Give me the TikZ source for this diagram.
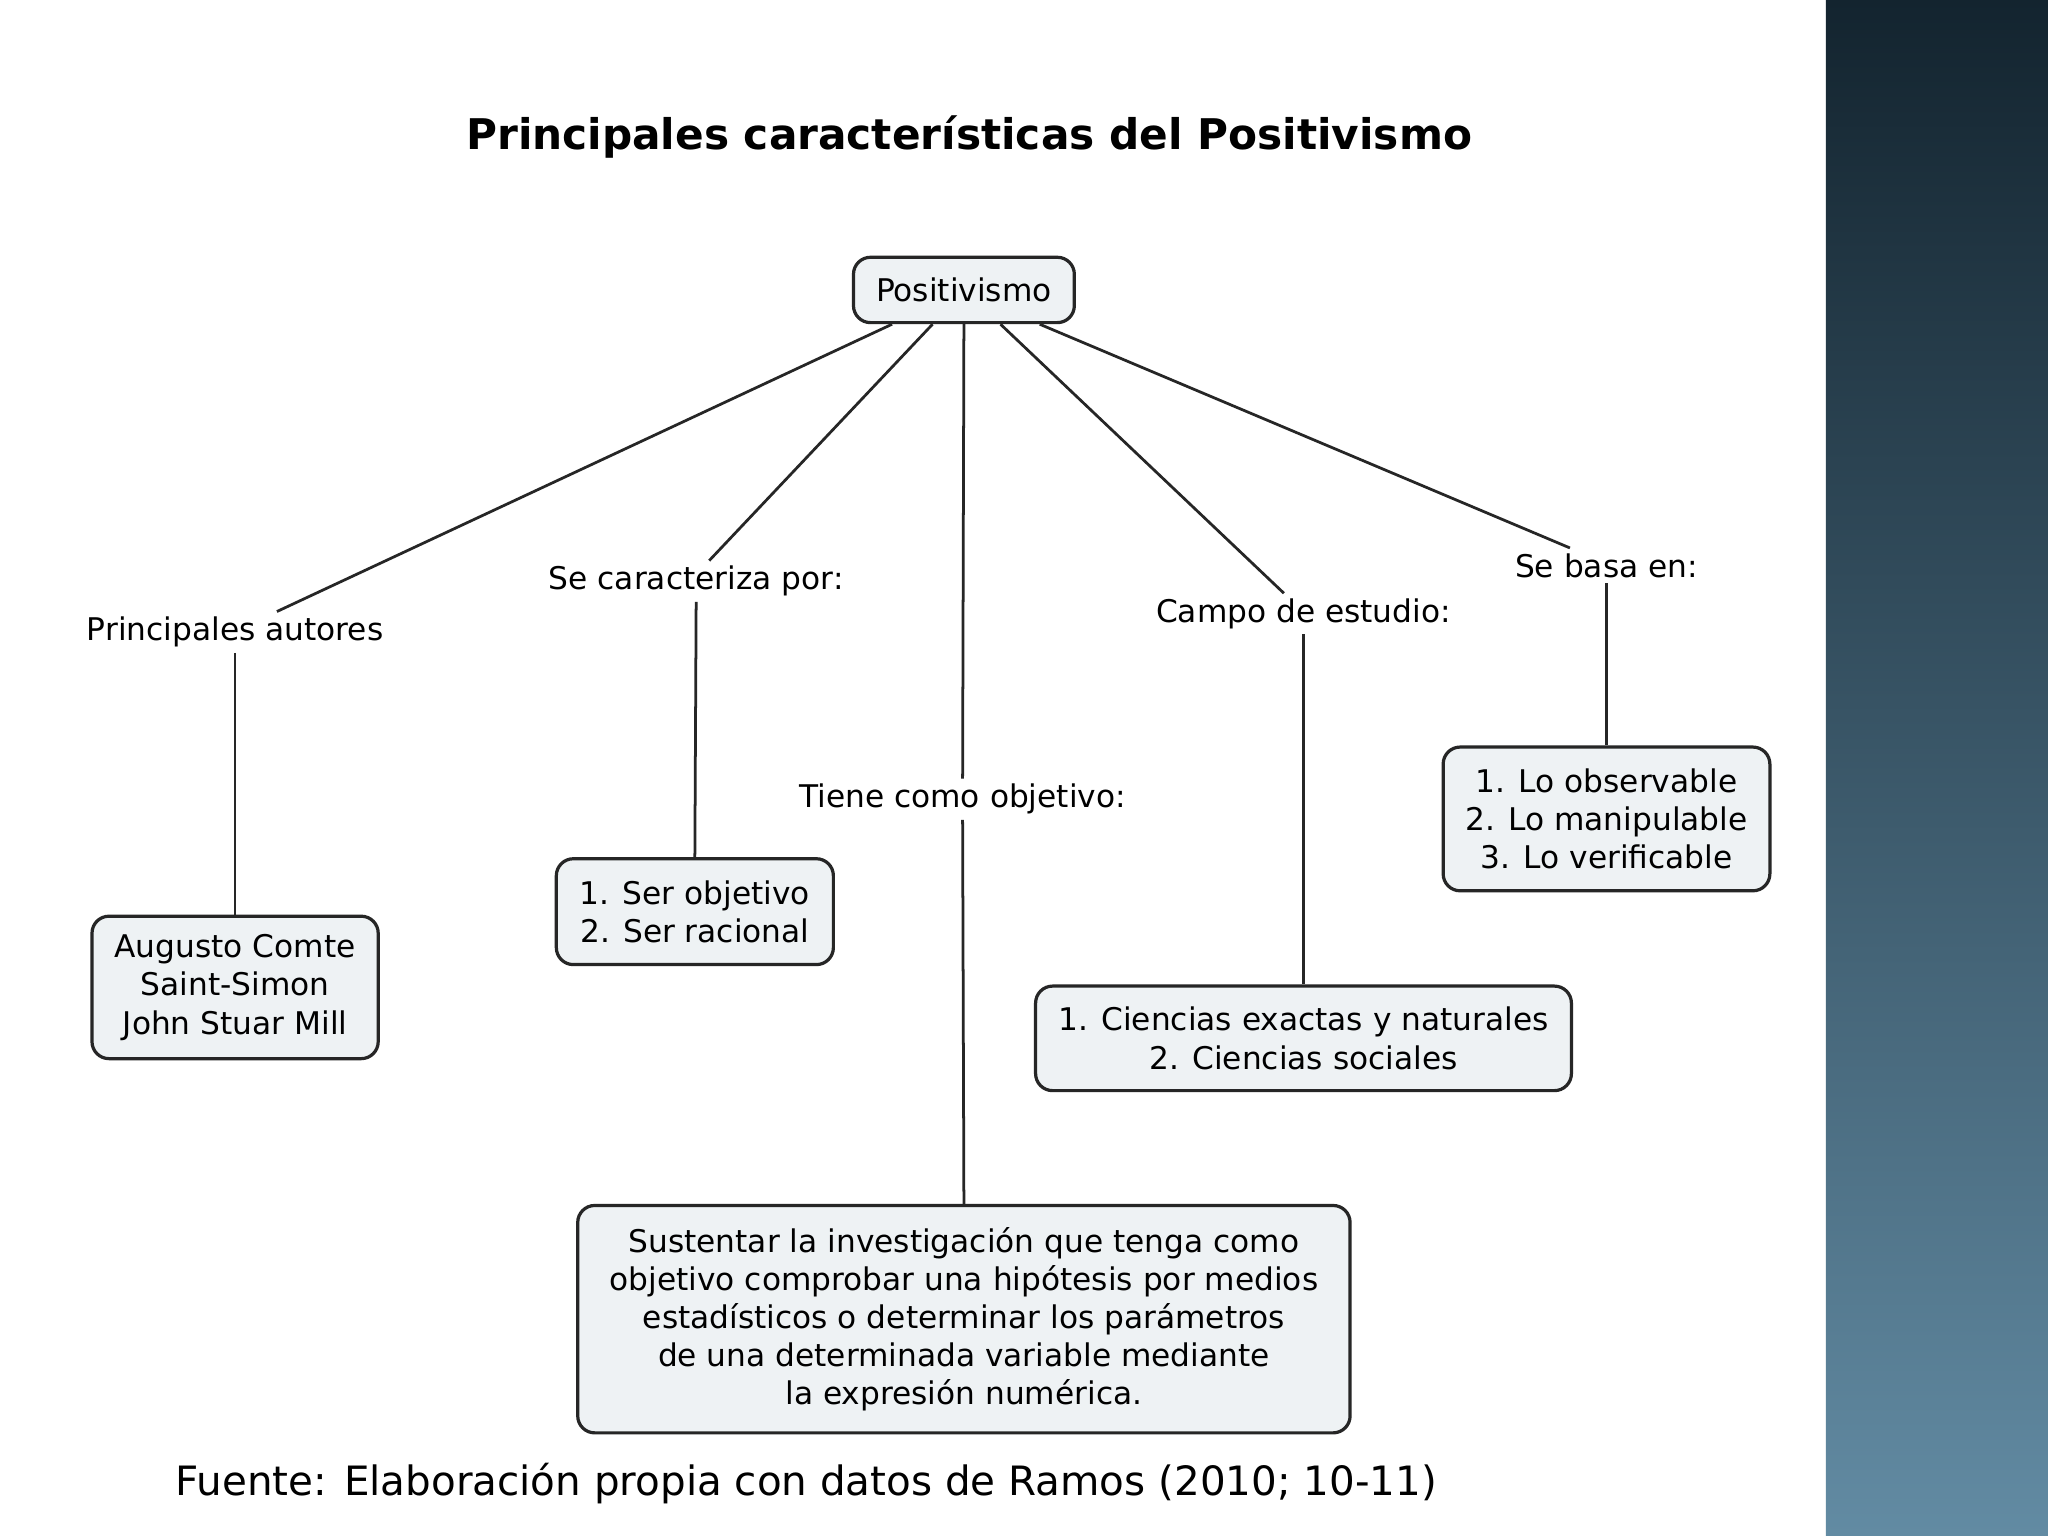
\documentclass[tikz,border=0pt]{standalone}
\usepackage{fontspec}
\setmainfont{DejaVu Sans}
\begin{document}
\begin{tikzpicture}[x=0.01cm,y=-0.01cm,
  box/.style={draw=black!85,fill={rgb,255:red,238;green,242;blue,244},rounded corners=0.13cm,line width=0.7pt,align=center,font=\fontsize{6.8}{8.3}\selectfont,inner sep=0pt},
  lab/.style={font=\fontsize{6.8}{8.3}\selectfont,inner sep=1pt,fill=white},
  ln/.style={line width=0.6pt,black!85}]
\useasboundingbox (0,0) rectangle (1568,1176);
\fill[white] (0,0) rectangle (1398,1176);
\shade[top color={rgb,255:red,19;green,36;blue,47},bottom color={rgb,255:red,98;green,139;blue,163}] (1398,0) rectangle (1568,1176);
\node[font=\fontsize{9.2}{11}\selectfont\bfseries] (title) at (742,105) {Principales características del Positivismo};
\node[box,minimum width=1.69cm,minimum height=0.50cm] (pos) at (738,222) {Positivismo};
\node[lab] (la) at (180,484) {Principales autores};
\node[lab] (lb) at (533,445) {Se caracteriza por:};
\node[lab] (lc) at (737,612) {Tiene como objetivo:};
\node[lab] (ld) at (998,470) {Campo de estudio:};
\node[lab] (le) at (1230,433) {Se basa en:};
\node[box,minimum width=2.19cm,minimum height=1.09cm] (ba) at (180,756) {Augusto Comte\\Saint-Simon\\John Stuar Mill};
\node[box,minimum width=2.12cm,minimum height=0.81cm] (bb) at (532,698) {1. Ser objetivo\\2. Ser racional};
\node[box,minimum width=5.91cm,minimum height=1.74cm] (bc) at (738,1010) {Sustentar la investigación que tenga como\\objetivo comprobar una hipótesis por medios\\estadísticos o determinar los parámetros\\de una determinada variable mediante\\la expresión numérica.};
\node[box,minimum width=4.10cm,minimum height=0.80cm] (bd) at (998,795) {1. Ciencias exactas y naturales\\2. Ciencias sociales};
\node[box,minimum width=2.50cm,minimum height=1.10cm] (be) at (1230,627) {1. Lo observable\\2. Lo manipulable\\3. Lo verificable};
\draw[ln] ([xshift=-0.55cm]pos.south) -- ([xshift=0.32cm]la.north);
\draw[ln] ([xshift=-0.24cm]pos.south) -- ([xshift=0.10cm]lb.north);
\draw[ln] (pos.south) -- (lc.north);
\draw[ln] ([xshift=0.28cm]pos.south) -- ([xshift=-0.15cm]ld.north);
\draw[ln] ([xshift=0.58cm]pos.south) -- ([xshift=-0.28cm]le.north);
\draw[ln] (la.south) -- (ba.north);
\draw[ln] (lb.south) -- (bb.north);
\draw[ln] (lc.south) -- (bc.north);
\draw[ln] (ld.south) -- (bd.north);
\draw[ln] (le.south) -- (be.north);
\node[anchor=west,font=\fontsize{8.8}{10}\selectfont] (src) at (122,1136) {Fuente: Elaboración propia con datos de Ramos (2010; 10-11)};
\end{tikzpicture}
\end{document}
